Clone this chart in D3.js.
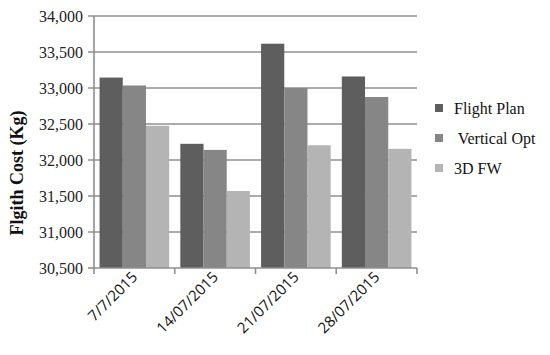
<!DOCTYPE html>
<html><head><meta charset="utf-8">
<script src="https://cdn.jsdelivr.net/npm/d3@7"></script>
<style>body{margin:0;background:#fff}</style>
</head><body>
<svg id="c" width="550" height="355"></svg>
<script>
const categories = ["7/7/2015", "14/07/2015", "21/07/2015", "28/07/2015"];
const seriesNames = ["Flight Plan", " Vertical Opt", "3D FW"];
const flightPlan = [33145, 32225, 33615, 33160];
const verticalOpt = [33035, 32140, 33000, 32875];
const fw3d = [32475, 31570, 32205, 32155];
const yTicks = [30500, 31000, 31500, 32000, 32500, 33000, 33500, 34000];
const colors = ["#5e5e5e", "#868686", "#b4b4b4"];

const series = [flightPlan, verticalOpt, fw3d];
const svg = d3.select("#c");
const m = {l: 94, r: 417, t: 16, b: 268};
const x = d3.scaleBand().domain(categories).range([m.l, m.r]).paddingInner(0).paddingOuter(0);
const xs = d3.scaleBand().domain(d3.range(3)).range([0, x.bandwidth()]).paddingOuter(0.24).paddingInner(0);
const y = d3.scaleLinear().domain([30500, 34000]).range([m.b, m.t]);
const fmt = d3.format(",");

svg.append("g").selectAll("line").data(yTicks.slice(1)).join("line")
  .attr("x1", m.l - 6).attr("x2", m.r).attr("y1", d => y(d)).attr("y2", d => y(d))
  .attr("stroke", "#8f8f8f").attr("stroke-width", 1.6);
svg.append("line").attr("x1", m.l - 6).attr("x2", m.l).attr("y1", y(30500)).attr("y2", y(30500))
  .attr("stroke", "#8f8f8f").attr("stroke-width", 1.6);

series.forEach((s, si) => {
  svg.append("g").selectAll("rect").data(s).join("rect")
    .attr("x", (d, i) => x(categories[i]) + xs(si))
    .attr("width", xs.bandwidth())
    .attr("y", d => y(d))
    .attr("height", d => y(30500) - y(d))
    .attr("fill", colors[si]);
});

svg.append("line").attr("x1", m.l).attr("x2", m.l).attr("y1", m.t).attr("y2", m.b)
  .attr("stroke", "#8f8f8f").attr("stroke-width", 1.6);
svg.append("line").attr("x1", m.l).attr("x2", m.r).attr("y1", m.b).attr("y2", m.b)
  .attr("stroke", "#8f8f8f").attr("stroke-width", 1.6);
const bounds = categories.map(c => x(c)).concat([m.r]);
svg.append("g").selectAll("line").data(bounds).join("line")
  .attr("x1", d => d).attr("x2", d => d).attr("y1", m.b).attr("y2", m.b + 6)
  .attr("stroke", "#8f8f8f").attr("stroke-width", 1.6);

svg.append("g").selectAll("text").data(yTicks).join("text")
  .attr("x", 83).attr("y", d => y(d)).attr("dy", "0.35em")
  .attr("text-anchor", "end")
  .attr("font-family", "Liberation Serif, serif").attr("font-size", 16).attr("fill", "#222")
  .text(d => fmt(d));

svg.append("g").selectAll("text").data(categories).join("text")
  .attr("transform", d => `translate(${x(d) + x.bandwidth() / 2 + 4},${m.b + 10}) rotate(-45)`)
  .attr("text-anchor", "end")
  .attr("font-family", "Open Sans, sans-serif").attr("font-size", 15).attr("fill", "#111")
  .text(d => d);

svg.append("text").attr("transform", `translate(23,${173}) rotate(-90)`)
  .attr("text-anchor", "middle")
  .attr("font-family", "Liberation Serif, serif").attr("font-size", 18).attr("font-weight", "bold").attr("fill", "#111")
  .text("Flgith Cost (Kg)");

const ly = [108, 138, 168];
const lg = svg.append("g");
seriesNames.forEach((n, i) => {
  lg.append("rect").attr("x", 435).attr("y", ly[i] - 4).attr("width", 8).attr("height", 8).attr("fill", colors[i]);
  lg.append("text").attr("x", 454).attr("y", ly[i]).attr("dy", "0.35em")
    .attr("font-family", "Liberation Serif, serif").attr("font-size", 16).attr("fill", "#111")
    .style("white-space", "pre")
    .text(n);
});
</script>
</body></html>
